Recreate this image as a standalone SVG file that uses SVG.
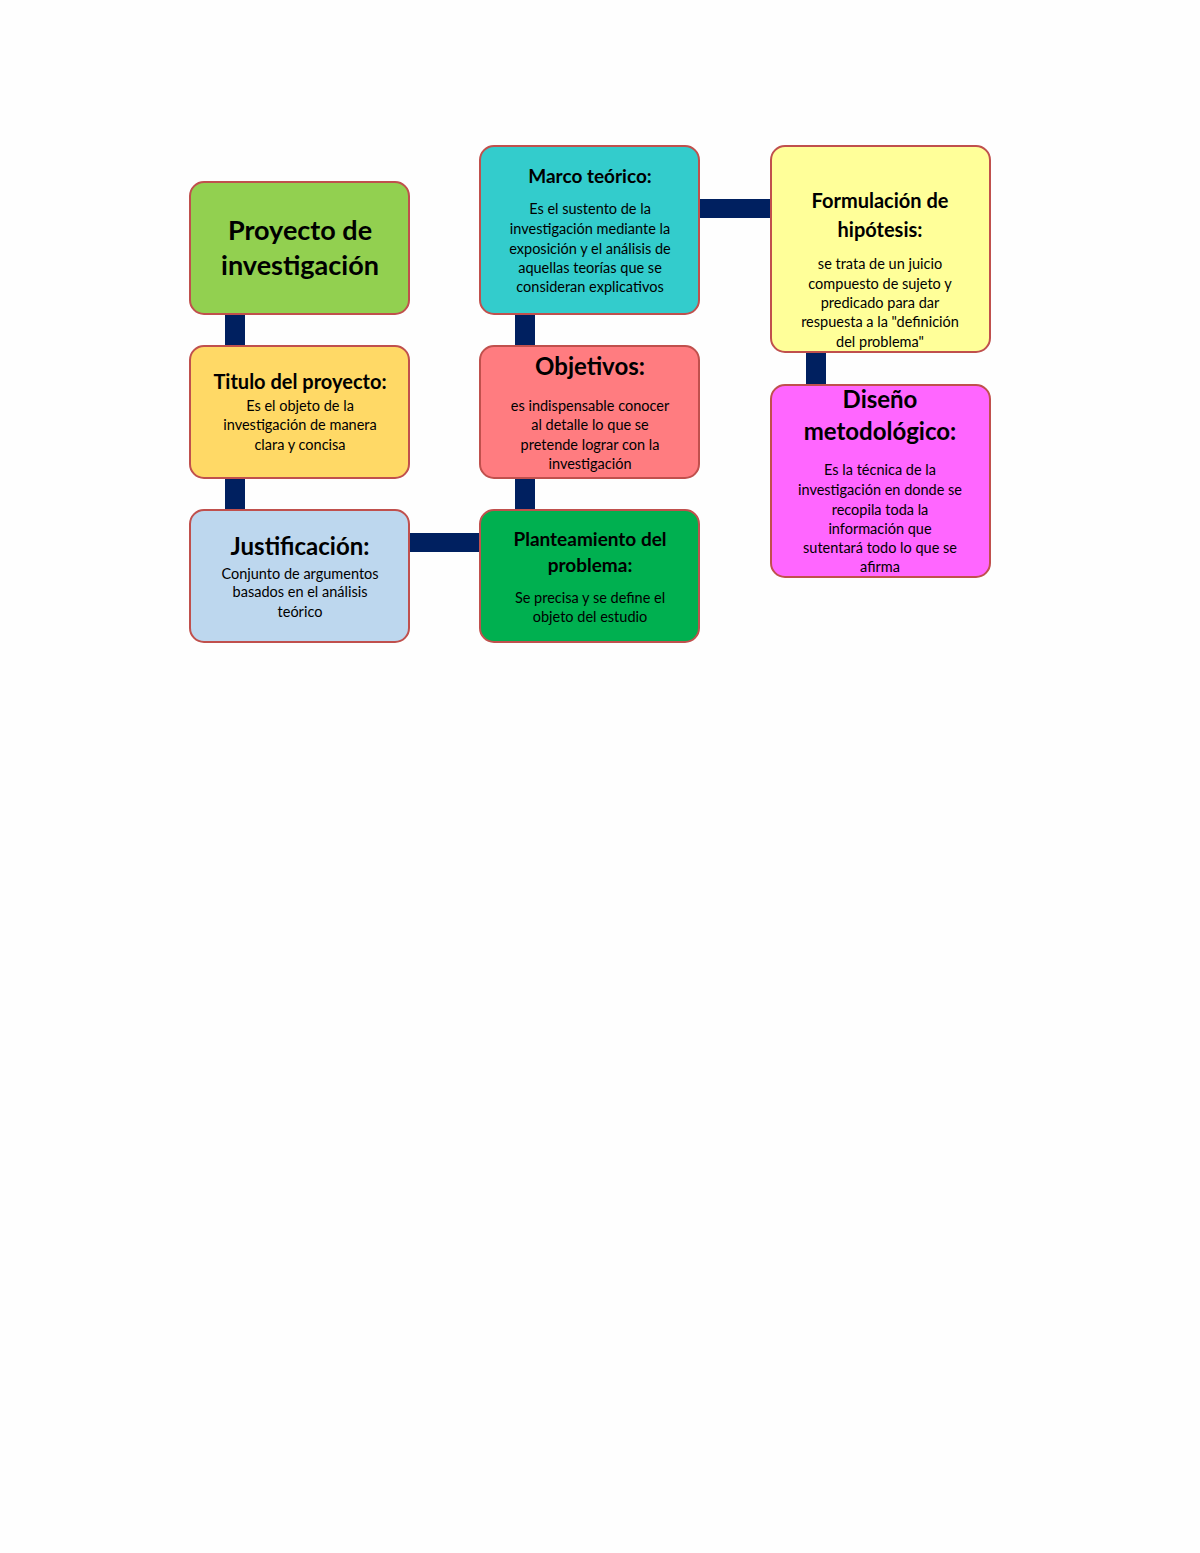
<svg xmlns="http://www.w3.org/2000/svg" width="1200" height="1553" viewBox="0 0 1200 1553">
<style>
.b{stroke:#C0504D;stroke-width:2}
text{font-family:"Lato","Liberation Sans",sans-serif;text-anchor:middle;fill:#000}
.t{font-weight:bold}
.s{font-size:14.5px}
.c{fill:#002060}
</style>
<rect width="1200" height="1553" fill="#fefefe"/>
<g id="connectors">
<rect class="c" x="225" y="313" width="20" height="34"/>
<rect class="c" x="225" y="477" width="20" height="34"/>
<rect class="c" x="408" y="533" width="73" height="19"/>
<rect class="c" x="515" y="477" width="20" height="34"/>
<rect class="c" x="515" y="313" width="20" height="34"/>
<rect class="c" x="698" y="199" width="74" height="19"/>
<rect class="c" x="806" y="351" width="20" height="35"/>
</g>
<g id="proyecto"><rect class="b" x="190" y="182" width="219" height="132" rx="14" fill="#92D050"/>
<text class="t" x="300" y="240" font-size="27">Proyecto de</text><text class="t" x="300" y="275" font-size="27">investigación</text></g>
<g id="titulo"><rect class="b" x="190" y="346" width="219" height="132" rx="14" fill="#FFD966"/>
<text class="t" x="300" y="389" font-size="20">Titulo del proyecto:</text>
<text class="s" x="300" y="411">Es el objeto de la</text><text class="s" x="300" y="430">investigación de manera</text><text class="s" x="300" y="450">clara y concisa</text></g>
<g id="justificacion"><rect class="b" x="190" y="510" width="219" height="132" rx="14" fill="#BDD7EE"/>
<text class="t" x="300" y="555" font-size="24">Justificación:</text>
<text class="s" x="300" y="579">Conjunto de argumentos</text><text class="s" x="300" y="597">basados en el análisis</text><text class="s" x="300" y="617">teórico</text></g>
<g id="marco"><rect class="b" x="480" y="146" width="219" height="168" rx="14" fill="#33CCCC"/>
<text class="t" x="590" y="183" font-size="19">Marco teórico:</text>
<text class="s" x="590" y="214">Es el sustento de la</text><text class="s" x="590" y="234">investigación mediante la</text><text class="s" x="590" y="254">exposición y el análisis de</text><text class="s" x="590" y="273">aquellas teorías que se</text><text class="s" x="590" y="292">consideran explicativos</text></g>
<g id="objetivos"><rect class="b" x="480" y="346" width="219" height="132" rx="14" fill="#FF7C80"/>
<text class="t" x="590" y="375" font-size="24">Objetivos:</text>
<text class="s" x="590" y="411">es indispensable conocer</text><text class="s" x="590" y="430">al detalle lo que se</text><text class="s" x="590" y="450">pretende lograr con la</text><text class="s" x="590" y="469">investigación</text></g>
<g id="planteamiento"><rect class="b" x="480" y="510" width="219" height="132" rx="14" fill="#00B050"/>
<text class="t" x="590" y="546" font-size="19">Planteamiento del</text><text class="t" x="590" y="572" font-size="19">problema:</text>
<text class="s" x="590" y="603">Se precisa y se define el</text><text class="s" x="590" y="622">objeto del estudio</text></g>
<g id="formulacion"><rect class="b" x="771" y="146" width="219" height="206" rx="14" fill="#FFFF99"/>
<text class="t" x="880" y="208" font-size="20">Formulación de</text><text class="t" x="880" y="237" font-size="20">hipótesis:</text>
<text class="s" x="880" y="269">se trata de un juicio</text><text class="s" x="880" y="289">compuesto de sujeto y</text><text class="s" x="880" y="308">predicado para dar</text><text class="s" x="880" y="327">respuesta a la "definición</text><text class="s" x="880" y="347">del problema"</text></g>
<g id="diseno"><rect class="b" x="771" y="385" width="219" height="192" rx="14" fill="#FF66FF"/>
<text class="t" x="880" y="408" font-size="24">Diseño</text><text class="t" x="880" y="440" font-size="24">metodológico:</text>
<text class="s" x="880" y="475">Es la técnica de la</text><text class="s" x="880" y="495">investigación en donde se</text><text class="s" x="880" y="515">recopila toda la</text><text class="s" x="880" y="534">información que</text><text class="s" x="880" y="553">sutentará todo lo que se</text><text class="s" x="880" y="572">afirma</text></g>
</svg>
